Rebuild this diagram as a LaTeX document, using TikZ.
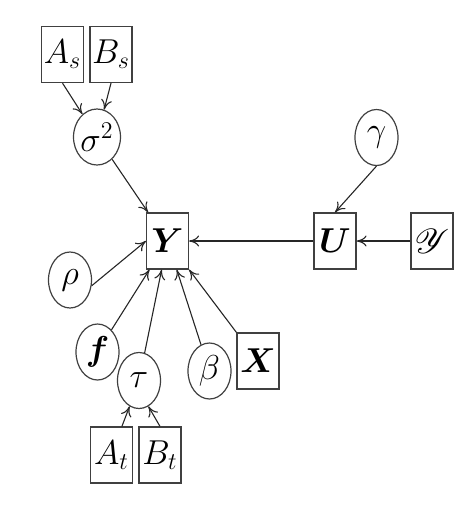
\documentclass[tikz,border=0pt]{standalone}
\usepackage{amsmath,amssymb,mathrsfs}
\usetikzlibrary{arrows.meta,shapes.geometric}

\begin{document}
\begin{tikzpicture}[
  x=0.5pt, y=-0.5pt, every node/.style={font=\LARGE},
  box/.style={draw=black!75, line width=0.6pt, minimum width=21pt, minimum height=28pt, inner sep=0pt},
  prm/.style={ellipse, draw=black!75, line width=0.6pt, minimum width=21.5pt, minimum height=28pt, inner sep=0pt},
  dep/.style={-{To[length=5pt,width=5.5pt]}, line width=0.55pt, black!85},
]
\useasboundingbox (0,0) rectangle (474,511);
% ---------------- variance prior ----------------
\node[box] (As) at (62.5,54.5) {$A_s$};
\node[box] (Bs) at (111,54.5) {$B_s$};
\node[prm] (sig) at (97,137) {$\sigma^2$};
% ---------------- response and latent part ----------------
\node[box] (Y) at (167.5,241) {$\boldsymbol{Y}$};
\node[box] (U) at (335,241) {$\boldsymbol{U}$};
\node[box] (Ysc) at (432,241) {$\mathscr{Y}$};
\node[prm] (gam) at (376.5,137.5) {$\gamma$};
% ---------------- other parameters ----------------
\node[prm] (rho) at (70,280) {$\rho$};
\node[prm] (f) at (97.5,352) {$\boldsymbol{f}$};
\node[prm] (tau) at (139,380.5) {$\tau$};
\node[prm] (beta) at (209.5,371) {$\beta$};
\node[box] (X) at (258,361) {$\boldsymbol{X}$};
\node[box] (At) at (111.5,455) {$A_t$};
\node[box] (Bt) at (160,455) {$B_t$};
% ---------------- edges ----------------
\draw[dep] (As.south) -- (sig);
\draw[dep] (Bs.south) -- (sig);
\draw[dep] (sig) -- (Y);
\draw[dep] (rho.-15) -- (Y.west);
\draw[dep] (f) -- (Y);
\draw[dep] (tau) -- (Y);
\draw[dep] (beta) -- (Y);
\draw[dep] (X) -- (Y);
\draw[dep] (U) -- (Y);
\draw[dep] (Ysc) -- (U);
\draw[dep] (gam.south) -- (U.north);
\draw[dep] (At.70) -- (tau.250);
\draw[dep] (Bt.north) -- (tau.290);
\end{tikzpicture}
\end{document}
